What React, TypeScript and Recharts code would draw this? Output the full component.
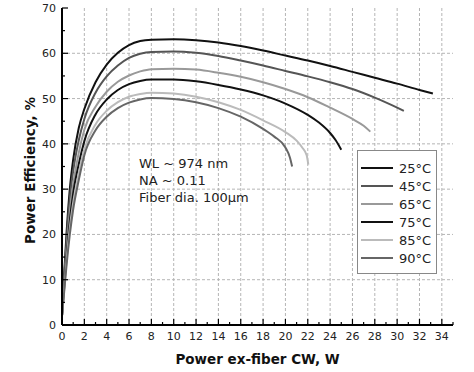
import { LineChart, Line, XAxis, YAxis, CartesianGrid, Legend, Label } from "recharts";

const FONT = "'DejaVu Sans', Verdana, sans-serif";

// axis ticks
const xTicks = Array.from({ length: 36 }, (_, i) => i);
const yTicks = [0, 5, 10, 15, 20, 25, 30, 35, 40, 45, 50, 55, 60, 65, 70];
const gridX = [2, 4, 6, 8, 10, 12, 14, 16, 18, 20, 22, 24, 26, 28, 30, 32, 34];
const gridY = [10, 20, 30, 40, 50, 60];

// power ex-fiber (W) / efficiency (%)
const x25 = [0, 0.2, 0.4, 0.7, 1, 1.5, 2, 3, 4, 5, 6, 7, 8, 10, 12, 14, 16, 18, 20, 22, 24, 26, 28, 30, 32, 33.2];
const eff25 = [2, 11.5, 20, 30, 36.5, 43.5, 47.7, 53.6, 57.5, 60.1, 61.8, 62.7, 63.0, 63.1, 62.9, 62.4, 61.6, 60.6, 59.5, 58.4, 57.2, 55.9, 54.6, 53.3, 51.9, 51.1];

const x45 = [0, 0.2, 0.4, 0.7, 1, 1.5, 2, 3, 4, 5, 6, 7, 8, 10, 12, 14, 16, 18, 20, 22, 24, 26, 28, 30, 30.6];
const eff45 = [2, 10.5, 18.5, 28, 34, 40.8, 45.5, 51.3, 54.9, 57.3, 59.0, 59.9, 60.3, 60.4, 60.1, 59.4, 58.4, 57.3, 56.1, 54.9, 53.6, 52.1, 50.2, 48.0, 47.3];

const x65 = [0, 0.2, 0.4, 0.7, 1, 1.5, 2, 3, 4, 5, 6, 7, 8, 10, 12, 14, 16, 18, 20, 22, 24, 26, 27, 27.6];
const eff65 = [2, 9, 16, 25, 31, 38, 43.1, 48.2, 51.5, 53.7, 55.1, 56.0, 56.5, 56.6, 56.4, 55.7, 54.8, 53.6, 52.1, 50.3, 48.0, 45.5, 44.0, 42.7];

const x75 = [0, 0.2, 0.4, 0.7, 1, 1.5, 2, 3, 4, 5, 6, 7, 8, 10, 12, 14, 16, 18, 20, 22, 23, 24, 24.5, 25];
const eff75 = [2, 8.5, 15, 23, 29, 35.5, 40.6, 46.5, 49.8, 51.9, 53.2, 53.9, 54.2, 54.2, 53.8, 53.0, 52.0, 50.7, 48.9, 46.4, 44.7, 42.4, 40.8, 38.7];

const x85 = [0, 0.2, 0.4, 0.7, 1, 1.5, 2, 3, 4, 5, 6, 7, 8, 10, 12, 14, 16, 18, 20, 21, 21.5, 21.9, 22.05];
const eff85 = [2, 8, 14, 21.5, 27, 33.5, 38.8, 44.3, 47.3, 49.2, 50.4, 51.0, 51.3, 51.1, 50.4, 49.2, 47.5, 45.2, 42.6, 40.7, 39.2, 37.5, 35.4];

const x90 = [0, 0.2, 0.4, 0.7, 1, 1.5, 2, 3, 4, 5, 6, 7, 8, 10, 12, 14, 16, 18, 19, 20, 20.4, 20.6];
const eff90 = [2, 7.5, 13, 20, 25.5, 32, 37.5, 43.0, 46.0, 47.9, 49.1, 49.8, 50.1, 49.9, 49.2, 47.9, 46.0, 43.3, 41.6, 39.2, 37.0, 35.0];

const toRows = (xs: number[], ys: number[]) => xs.map((x, i) => ({ x, y: ys[i] }));

const series = [
  { name: "25°C", color: "#111111", data: toRows(x25, eff25) },
  { name: "45°C", color: "#555555", data: toRows(x45, eff45) },
  { name: "65°C", color: "#999999", data: toRows(x65, eff65) },
  { name: "75°C", color: "#111111", data: toRows(x75, eff75) },
  { name: "85°C", color: "#bbbbbb", data: toRows(x85, eff85) },
  { name: "90°C", color: "#666666", data: toRows(x90, eff90) },
];

const notes = ["WL ~ 974 nm", "NA ~ 0.11", "Fiber dia. 100\u00b5m"];

function BottomTick({ x, y, payload }: any) {
  const v = payload.value;
  const major = v % 2 === 0;
  return (
    <g>
      <line x1={x} x2={x} y1={y} y2={y - (major ? 6 : 3)} stroke="#000" strokeWidth={1.2} />
      {major && v <= 34 && (
        <text x={x} y={y + 15} textAnchor="middle" fontSize={11} fontFamily={FONT} fill="#222">
          {v}
        </text>
      )}
    </g>
  );
}

function TopTick({ x, y, payload }: any) {
  const major = payload.value % 2 === 0;
  return <line x1={x} x2={x} y1={y} y2={y + (major ? 6 : 3)} stroke="#000" strokeWidth={1.2} />;
}

function LeftTick({ x, y, payload }: any) {
  const v = payload.value;
  const major = v % 10 === 0;
  return (
    <g>
      <line x1={x} x2={x + (major ? 6 : 3)} y1={y} y2={y} stroke="#000" strokeWidth={1.2} />
      {major && (
        <text x={x - 6} y={y + 4} textAnchor="end" fontSize={11} fontFamily={FONT} fill="#222">
          {v}
        </text>
      )}
    </g>
  );
}

function RightTick({ x, y, payload }: any) {
  const major = payload.value % 10 === 0;
  return <line x1={x} x2={x - (major ? 6 : 3)} y1={y} y2={y} stroke="#000" strokeWidth={1.2} />;
}

function LegendBox({ payload }: any) {
  return (
    <div
      style={{
        boxSizing: "border-box",
        width: 80,
        height: 124,
        border: "1px solid #888",
        background: "#fff",
        padding: "8px 0 0 3px",
        fontFamily: FONT,
        fontSize: 13,
        color: "#222",
      }}
    >
      {(payload || []).map((p: any) => (
        <div key={p.value} style={{ display: "flex", alignItems: "center", height: 18 }}>
          <span style={{ width: 32, borderTop: `2.5px solid ${p.color}`, marginRight: 6 }} />
          <span>{p.value}</span>
        </div>
      ))}
    </div>
  );
}

export default function App() {
  return (
    <div style={{ position: "absolute", left: 0, top: 0, width: 474, height: 372, background: "#fff" }}>
      <LineChart width={474} height={372} margin={{ top: 8, right: 21, bottom: 0, left: 0 }}>
        <CartesianGrid
          verticalValues={gridX}
          horizontalValues={gridY}
          stroke="#b5b5b5"
          strokeDasharray="3 2"
        />
        <XAxis
          dataKey="x"
          type="number"
          domain={[0, 35]}
          ticks={xTicks}
          interval={0}
          height={47}
          tickSize={0}
          tickMargin={0}
          tickLine={false}
          tick={<BottomTick />}
          axisLine={{ stroke: "#000", strokeWidth: 2 }}
          allowDataOverflow
        >
          <Label
            content={({ viewBox }: any) => (
              <text
                x={viewBox.x + viewBox.width / 2}
                y={viewBox.y + 39}
                textAnchor="middle"
                fontSize={13.5}
                fontWeight="bold"
                fontFamily={FONT}
                fill="#111"
              >
                Power ex-fiber CW, W
              </text>
            )}
          />
        </XAxis>
        <XAxis
          xAxisId="top"
          orientation="top"
          type="number"
          dataKey="x"
          domain={[0, 35]}
          ticks={xTicks}
          interval={0}
          height={0}
          tickSize={0}
          tickMargin={0}
          tickLine={false}
          tick={<TopTick />}
          axisLine={{ stroke: "#000", strokeWidth: 2 }}
          allowDataOverflow
        />
        <YAxis
          type="number"
          domain={[0, 70]}
          ticks={yTicks}
          interval={0}
          width={62}
          tickSize={0}
          tickMargin={0}
          tickLine={false}
          tick={<LeftTick />}
          axisLine={{ stroke: "#000", strokeWidth: 2 }}
          allowDataOverflow
        >
          <Label
            content={({ viewBox }: any) => (
              <text
                transform={`translate(35, ${viewBox.y + viewBox.height / 2 + 4}) rotate(-90)`}
                textAnchor="middle"
                fontSize={13.5}
                fontWeight="bold"
                fontFamily={FONT}
                fill="#111"
              >
                Power Efficiency, %
              </text>
            )}
          />
        </YAxis>
        <YAxis
          yAxisId="right"
          orientation="right"
          type="number"
          domain={[0, 70]}
          ticks={yTicks}
          interval={0}
          width={0}
          tickSize={0}
          tickMargin={0}
          tickLine={false}
          tick={<RightTick />}
          axisLine={{ stroke: "#000", strokeWidth: 2 }}
          allowDataOverflow
        />
        <Legend
          layout="vertical"
          align="center"
          verticalAlign="middle"
          content={<LegendBox />}
          wrapperStyle={{ left: 357, top: 150, width: 80, height: 124 }}
        />
        {series.map((s) => (
          <Line
            key={s.name}
            name={s.name}
            data={s.data}
            dataKey="y"
            type="monotone"
            stroke={s.color}
            strokeWidth={2}
            dot={false}
            activeDot={false}
            isAnimationActive={false}
          />
        ))}
      </LineChart>
      <div
        style={{
          position: "absolute",
          left: 139,
          top: 155,
          fontFamily: FONT,
          fontSize: 13,
          lineHeight: "17px",
          color: "#222",
          whiteSpace: "nowrap",
        }}
      >
        {notes.map((n) => (
          <div key={n}>{n}</div>
        ))}
      </div>
    </div>
  );
}
